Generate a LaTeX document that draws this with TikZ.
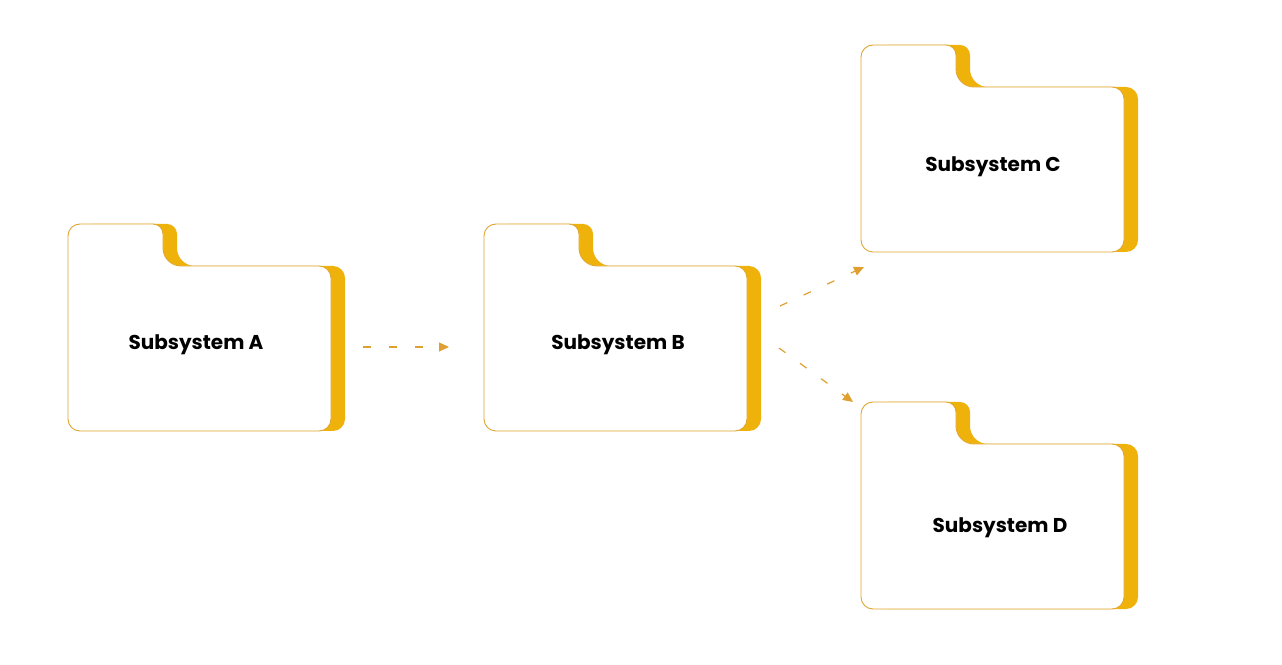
\documentclass[tikz,border=0pt]{standalone}
\usepackage{fontspec}
\setmainfont{Poppins}
\usetikzlibrary{arrows.meta}
\definecolor{goldshadow}{HTML}{EFB20A}
\definecolor{goldline}{HTML}{E0A630}
\definecolor{arrowc}{HTML}{E0A030}
\newcommand{\folderpath}{(0,-12) arc[start angle=180,end angle=90,radius=12pt] -- (85,0) arc[start angle=90,end angle=0,radius=10pt] -- (95,-24) arc[start angle=180,end angle=270,radius=18pt] -- (251,-42) arc[start angle=90,end angle=0,radius=12pt] -- (263,-195) arc[start angle=0,end angle=-90,radius=12pt] -- (12,-207) arc[start angle=270,end angle=180,radius=12pt] -- cycle}
\tikzset{
  pics/folder/.style={code={
    \fill[goldshadow, xshift=14pt] \folderpath;
    \filldraw[fill=white, draw=goldline, line width=0.9pt] \folderpath;
  }},
  label/.style={font=\fontsize{20}{24}\selectfont\bfseries, text=black, inner sep=0pt},
  conn/.style={arrowc, line width=1.2pt, dash pattern=on 8pt off 18pt, -{Triangle[length=10pt,width=9pt]}}
}
\begin{document}
\begin{tikzpicture}[x=1pt,y=1pt]
\useasboundingbox (0,0) rectangle (1282,664);
\fill[white] (0,0) rectangle (1282,664);
\pic at (68,440) {folder};
\pic at (484,440) {folder};
\pic at (861,619) {folder};
\pic at (861,262) {folder};
\node[label] (A) at (196,319) {Subsystem A};
\node[label] (B) at (618,319) {Subsystem B};
\node[label] (C) at (993,497) {Subsystem C};
\node[label] (D) at (1000,136) {Subsystem D};
\coordinate (Aout) at (363,317);
\coordinate (Bin) at (449,317);
\coordinate (Bout1) at (780,358);
\coordinate (Cin) at (864,397);
\coordinate (Bout2) at (779,316);
\coordinate (Din) at (853,262);
\draw[conn] (Aout) -- (Bin);
\draw[conn] (Bout1) -- (Cin);
\draw[conn] (Bout2) -- (Din);
\end{tikzpicture}
\end{document}
